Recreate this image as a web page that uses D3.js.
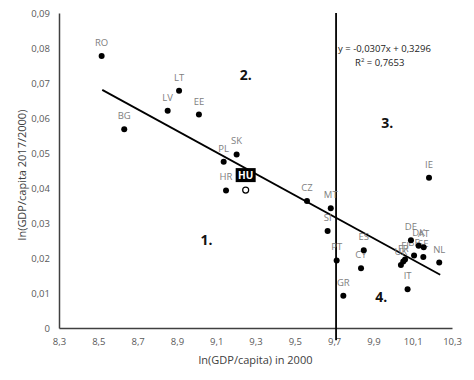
<!DOCTYPE html>
<html>
<head>
<meta charset="utf-8">
<script src="https://cdn.jsdelivr.net/npm/d3@7"></script>
<style>
  body { margin: 0; background: #fff; }
  text { font-family: "Open Sans", "Noto Sans", sans-serif; }
</style>
</head>
<body>
<div id="wrapper"></div>
<script>
// countries, ln(GDP/capita) in 2000, ln growth 2017/2000
const countries = ["RO", "BG", "LV", "LT", "EE", "PL", "SK", "HR", "CZ", "MT", "SI", "PT", "ES", "CY", "GR",
    "DE", "DK", "AT", "BE", "SE", "NL", "FI", "FR", "UK", "IT", "IE"];
const gdp2000 = [8.517, 8.632, 8.853, 8.911, 9.012, 9.138, 9.204, 9.150, 9.562, 9.683, 9.667, 9.713, 9.851, 9.837, 9.747,
    10.091, 10.130, 10.156, 10.107, 10.154, 10.235, 10.061, 10.052, 10.040, 10.074, 10.183];
const growth = [0.0777, 0.0568, 0.0621, 0.0678, 0.0610, 0.0475, 0.0496, 0.0393, 0.0363, 0.0342, 0.0277, 0.0193, 0.0222, 0.0171, 0.0092,
    0.0251, 0.0235, 0.0231, 0.0207, 0.0203, 0.0187, 0.0196, 0.0190, 0.0180, 0.0111, 0.0429];

const hu = { x: 9.250, y: 0.0394 };

const xTicks = [8.3, 8.5, 8.7, 8.9, 9.1, 9.3, 9.5, 9.7, 9.9, 10.1, 10.3];
const yTicks = [0, 0.01, 0.02, 0.03, 0.04, 0.05, 0.06, 0.07, 0.08, 0.09];

const slope = -0.0307, intercept = 0.3296;
const trendRange = [8.52, 10.24];
const splitX = 9.71;

const regions = [
    { name: "1.", x: 9.05, y: 0.0252 },
    { name: "2.", x: 9.25, y: 0.0723 },
    { name: "3.", x: 9.97, y: 0.0586 },
    { name: "4.", x: 9.94, y: 0.0088 }
];

var dimension = {
    width: 474,
    height: 380,
    margin: { top: 13, left: 59, bottom: 52, right: 22 }
};
dimension.boundedWidth = dimension.width - dimension.margin.left - dimension.margin.right;
dimension.boundedHeight = dimension.height - dimension.margin.top - dimension.margin.bottom;

const fmt = (v) => (v === 0 ? "0" : d3.format(".2f")(v).replace(".", ","));
const fmtX = (v) => d3.format(".1f")(v).replace(".", ",");

const svg = d3.select("#wrapper").append("svg")
    .attr("width", dimension.width)
    .attr("height", dimension.height);

const bounds = svg.append("g")
    .attr("transform", `translate(${dimension.margin.left},${dimension.margin.top})`);

const xScaler = d3.scaleLinear().domain([8.3, 10.3]).range([0, dimension.boundedWidth]);
const yScaler = d3.scaleLinear().domain([0, 0.09]).range([dimension.boundedHeight, 0]);

const yAxis = bounds.append("g")
    .call(d3.axisLeft(yScaler).tickValues(yTicks).tickFormat(fmt).tickSize(0).tickPadding(9));
const xAxis = bounds.append("g")
    .attr("transform", `translate(0,${dimension.boundedHeight})`)
    .call(d3.axisBottom(xScaler).tickValues(xTicks).tickFormat(fmtX).tickSize(0).tickPadding(10));

[xAxis, yAxis].forEach((a) => {
    a.select(".domain").attr("stroke", "#404040").attr("stroke-width", 1.5);
    a.selectAll("text").attr("fill", "#595959").style("font-size", "9.5px");
});

svg.append("text")
    .attr("x", dimension.margin.left + dimension.boundedWidth / 2)
    .attr("y", 364)
    .attr("text-anchor", "middle")
    .attr("fill", "#404040")
    .style("font-size", "11px")
    .text("ln(GDP/capita) in 2000");

svg.append("text")
    .attr("transform", `translate(26,175) rotate(-90)`)
    .attr("text-anchor", "middle")
    .attr("fill", "#404040")
    .style("font-size", "11px")
    .text("ln(GDP/capita 2017/2000)");

// vertical split line
bounds.append("line")
    .attr("x1", xScaler(splitX)).attr("x2", xScaler(splitX))
    .attr("y1", yScaler(0.09)).attr("y2", yScaler(-0.0035))
    .attr("stroke", "#000").attr("stroke-width", 1.8);

// trend line
bounds.append("line")
    .attr("x1", xScaler(trendRange[0])).attr("y1", yScaler(slope * trendRange[0] + intercept))
    .attr("x2", xScaler(trendRange[1])).attr("y2", yScaler(slope * trendRange[1] + intercept))
    .attr("stroke", "#000").attr("stroke-width", 1.8);

const data = countries.map((c, i) => ({ name: c, x: gdp2000[i], y: growth[i] }));

bounds.selectAll(".lbl")
    .data(data)
    .enter()
    .append("text")
    .attr("class", "lbl")
    .attr("x", (d) => xScaler(d.x))
    .attr("y", (d) => yScaler(d.y) - 10)
    .attr("text-anchor", "middle")
    .attr("fill", "#808080")
    .style("font-size", "9.5px")
    .text((d) => d.name);

bounds.selectAll("circle.pt")
    .data(data)
    .enter()
    .append("circle")
    .attr("class", "pt")
    .attr("cx", (d) => xScaler(d.x))
    .attr("cy", (d) => yScaler(d.y))
    .attr("r", 3)
    .attr("fill", "#000");

// Hungary
bounds.append("circle")
    .attr("cx", xScaler(hu.x)).attr("cy", yScaler(hu.y))
    .attr("r", 3)
    .attr("fill", "#fff").attr("stroke", "#000").attr("stroke-width", 1.2);
bounds.append("rect")
    .attr("x", xScaler(hu.x) - 10).attr("y", yScaler(hu.y) - 22)
    .attr("width", 20).attr("height", 14)
    .attr("fill", "#000");
bounds.append("text")
    .attr("x", xScaler(hu.x)).attr("y", yScaler(hu.y) - 11)
    .attr("text-anchor", "middle")
    .attr("fill", "#fff")
    .style("font-size", "10px")
    .style("font-weight", "bold")
    .text("HU");

bounds.selectAll(".region")
    .data(regions)
    .enter()
    .append("text")
    .attr("class", "region")
    .attr("x", (d) => xScaler(d.x))
    .attr("y", (d) => yScaler(d.y) + 5)
    .attr("text-anchor", "middle")
    .style("font-size", "14px")
    .style("font-weight", "bold")
    .attr("fill", "#111")
    .text((d) => d.name);

// equation
bounds.append("text")
    .attr("x", xScaler(splitX) + 2).attr("y", 39)
    .attr("fill", "#222")
    .style("font-size", "9.5px")
    .text("y = -0,0307x + 0,3296");
bounds.append("text")
    .attr("x", xScaler(splitX) + 19).attr("y", 53)
    .attr("fill", "#222")
    .style("font-size", "9.5px")
    .html("R<tspan dy='-4' font-size='6px'>2</tspan><tspan dy='4'> = 0,7653</tspan>");
</script>
</body>
</html>
